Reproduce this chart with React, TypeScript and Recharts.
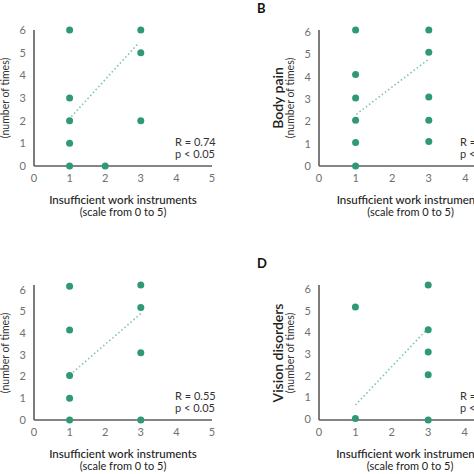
import React from "react";
import { ReferenceLine, Scatter, ScatterChart, XAxis, YAxis } from "recharts";

// panel A: work stress (label cut off in the crop)
const xA = [1, 1, 1, 1, 1, 2, 3, 3, 3];
const yA = [6, 3, 2, 1, 0, 0, 6, 5, 2];
const trendA = [[1.05, 2.18], [2.93, 5.41]];

// panel B: body pain
const xB = [1, 1, 1, 1, 1, 1, 3, 3, 3, 3, 3];
const yB = [6.1, 4.1, 3.05, 2.05, 1.05, 0, 6.1, 5.1, 3.1, 2.05, 1.1];
const trendB = [[1.02, 2.32], [3.02, 4.82]];

// panel C
const xC = [1, 1, 1, 1, 1, 3, 3, 3, 3];
const yC = [6.16, 4.15, 2.05, 1, 0, 6.22, 5.18, 3.1, 0];
const trendC = [[1.01, 2.08], [3.02, 4.93]];

// panel D: vision disorders
const xD = [1, 1, 3, 3, 3, 3, 3];
const yD = [5.17, 0.03, 6.19, 4.12, 3.1, 2.05, -0.04];
const trendD = [[1.0, 0.65], [3.0, 4.2]];

const xTicks = [0, 1, 2, 3, 4, 5];
const yTicks = [0, 1, 2, 3, 4, 5, 6];

const xTitle = "Insufficient work instruments";
const xSubtitle = "(scale from 0 to 5)";
const yUnit = "(number of times)";

const FONT = "Lato, 'Noto Sans', sans-serif";
const GREEN = "#2f9a72";
const TREND = "#7fc4a6";
const AXIS = "#5c5c5c";

type PanelProps = {
  plotLeft: number;
  plotTop: number;
  plotWidth: number;
  plotHeight: number;
  xs: number[];
  ys: number[];
  trend: number[][];
  yTitle?: string;
  letter?: string;
  r: string;
};

const dot = (p: any) => <circle cx={p.cx} cy={p.cy} r={3.5} fill={GREEN} />;

function Panel({ plotLeft, plotTop, plotWidth, plotHeight, xs, ys, trend, yTitle, letter, r }: PanelProps) {
  const data = xs.map((x, i) => ({ x, y: ys[i] }));
  const W = 34 + plotWidth + 10;
  const H = 10 + plotHeight + 20;
  const cx = plotLeft + plotWidth / 2;
  const cy = plotTop + plotHeight / 2;
  const tick = { fill: "#6f6f6f", fontSize: 11, fontFamily: FONT };

  return (
    <>
      <div style={{ position: "absolute", left: plotLeft - 34, top: plotTop - 10 }}>
        <ScatterChart width={W} height={H} margin={{ top: 10, right: 10, bottom: 0, left: 4 }}>
          <XAxis
            type="number"
            dataKey="x"
            domain={[() => 0, () => 5]}
            ticks={xTicks}
            tickLine={false}
            height={20}
            stroke={AXIS}
            strokeWidth={1.6}
            tick={tick}
          />
          <YAxis
            type="number"
            dataKey="y"
            domain={[() => 0, () => 6]}
            ticks={yTicks}
            tickLine={false}
            width={30}
            stroke={AXIS}
            strokeWidth={1.6}
            tick={tick}
          />
          <ReferenceLine
            segment={[{ x: trend[0][0], y: trend[0][1] }, { x: trend[1][0], y: trend[1][1] }]}
            stroke={TREND}
            strokeWidth={1.6}
            strokeDasharray="1.5 2.5"
          />
          <Scatter data={data} shape={dot} isAnimationActive={false} />
        </ScatterChart>
      </div>

      <div
        style={{
          position: "absolute",
          left: cx - 120,
          width: 240,
          top: plotTop + plotHeight + 28,
          textAlign: "center",
          fontFamily: FONT,
          color: "#222",
          lineHeight: "12px",
          whiteSpace: "nowrap",
        }}
      >
        <div style={{ fontSize: 11.5, fontWeight: 500 }}>{xTitle}</div>
        <div style={{ fontSize: 11 }}>{xSubtitle}</div>
      </div>

      <div
        style={{
          position: "absolute",
          left: plotLeft - 29 - 60,
          top: cy - 6,
          width: 120,
          textAlign: "center",
          transform: "rotate(-90deg)",
          fontFamily: FONT,
          fontSize: 10.5,
          color: "#333",
          lineHeight: "12px",
        }}
      >
        {yUnit}
      </div>
      {yTitle && (
        <div
          style={{
            position: "absolute",
            left: plotLeft - 41 - 60,
            top: cy - 8,
            width: 120,
            textAlign: "center",
            transform: "rotate(-90deg)",
            fontFamily: FONT,
            fontSize: 14,
            fontWeight: 600,
            color: "#222",
            lineHeight: "16px",
          }}
        >
          {yTitle}
        </div>
      )}
      {letter && (
        <div
          style={{
            position: "absolute",
            left: plotLeft - 62,
            top: plotTop - 30,
            fontFamily: FONT,
            fontWeight: 700,
            fontSize: 13,
            color: "#111",
          }}
        >
          {letter}
        </div>
      )}
      <div
        style={{
          position: "absolute",
          left: plotLeft + 141,
          top: plotTop + plotHeight - 30,
          fontFamily: FONT,
          fontSize: 11,
          lineHeight: "12px",
          color: "#333",
          whiteSpace: "nowrap",
        }}
      >
        <div>R = {r}</div>
        <div>p &lt; 0.05</div>
      </div>
    </>
  );
}

export default function App() {
  return (
    <div
      style={{
        position: "absolute",
        left: 0,
        top: 0,
        width: 474,
        height: 474,
        overflow: "hidden",
        background: "#fff",
      }}
    >
      <Panel plotLeft={34} plotTop={30} plotWidth={178} plotHeight={136} xs={xA} ys={yA} trend={trendA} r="0.74" />
      <Panel
        plotLeft={319}
        plotTop={30}
        plotWidth={183}
        plotHeight={136}
        xs={xB}
        ys={yB}
        trend={trendB}
        yTitle="Body pain"
        letter="B"
        r="0.61"
      />
      <Panel plotLeft={34} plotTop={285} plotWidth={178} plotHeight={135} xs={xC} ys={yC} trend={trendC} r="0.55" />
      <Panel
        plotLeft={319}
        plotTop={285}
        plotWidth={182}
        plotHeight={135}
        xs={xD}
        ys={yD}
        trend={trendD}
        yTitle="Vision disorders"
        letter="D"
        r="0.60"
      />
    </div>
  );
}
